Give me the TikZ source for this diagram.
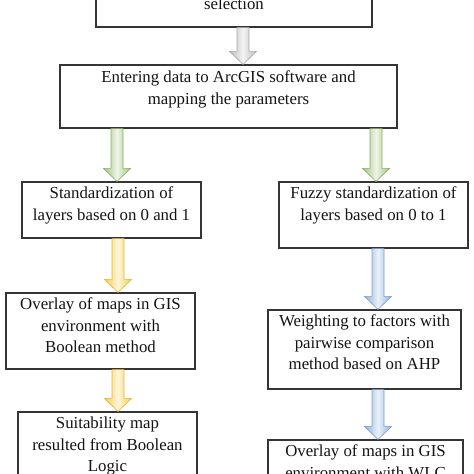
\documentclass[tikz,border=0pt]{standalone}
\usepackage{fontspec}
\setmainfont{Liberation Serif}
\usetikzlibrary{calc}
\definecolor{boxc}{HTML}{353535}
\definecolor{txtc}{HTML}{141414}
\definecolor{grayA}{HTML}{BDBDBD}
\definecolor{grayE}{HTML}{A8A8A8}
\definecolor{greenA}{HTML}{A2C681}
\definecolor{greenE}{HTML}{88AE64}
\definecolor{yellowA}{HTML}{F6CD48}
\definecolor{yellowE}{HTML}{E0B836}
\definecolor{blueA}{HTML}{8FB3DE}
\definecolor{blueE}{HTML}{779FD0}
\tikzset{
  box/.style={draw=boxc, line width=1.2bp, fill=white, inner sep=0pt},
  txt/.style={align=center, inner sep=0pt, text=txtc,
    font=\fontsize{16.8bp}{21.5bp}\selectfont},
}
\newcommand\blockarrow[4]{%
  \draw[line width=0.6bp, draw=#4, left color=#3, right color=#3, middle color=#3!18!white]
    ($(#1)+(-6,0)$) -- ($(#2)+(-6,-13)$) -- ($(#2)+(-13.5,-13)$) -- (#2)
    -- ($(#2)+(13.5,-13)$) -- ($(#2)+(6,-13)$) -- ($(#1)+(6,0)$) -- cycle;}
\begin{document}
\begin{tikzpicture}[x=1bp, y=-1bp]
\useasboundingbox (0,0) rectangle (474,474);
\clip (0,0) rectangle (474,474);
% anchor columns for the arrows
\coordinate (xg) at (243,0);
\coordinate (xgl) at (117,0);
\coordinate (xgr) at (376,0);
\coordinate (xyl) at (118,0);
\coordinate (xbr) at (378,0);
% boxes
\node[box, minimum width=276bp, minimum height=67bp,
  label={[txt, anchor=base, yshift=18bp]south:{selection}}] (B0) at (234,-6.5) {};
\node[box, minimum width=337bp, minimum height=63bp,
  label={[txt, anchor=north, yshift=-6.3bp]north:{Entering data to ArcGIS software and\\mapping the parameters}}] (B1) at (228.5,96.5) {};
\node[box, minimum width=179bp, minimum height=56bp,
  label={[txt, anchor=north, yshift=-5.3bp]north:{Standardization of\\layers based on 0 and 1}}] (L1) at (111.5,210) {};
\node[box, minimum width=189bp, minimum height=66bp,
  label={[txt, anchor=north, yshift=-5.3bp]north:{Fuzzy standardization of\\layers based on 0 to 1}}] (R1) at (373.5,215) {};
\node[box, minimum width=189bp, minimum height=76bp,
  label={[txt, anchor=north, yshift=-5.3bp]north:{Overlay of maps in GIS\\environment with\\Boolean method}}] (L2) at (100.5,331) {};
\node[box, minimum width=193bp, minimum height=79bp,
  label={[txt, anchor=north, yshift=-5.3bp]north:{Weighting to factors with\\pairwise comparison\\method based on AHP}}] (R2) at (364.5,349.5) {};
\node[box, minimum width=179bp, minimum height=88bp,
  label={[txt, anchor=north, yshift=-5.3bp]north:{Suitability map\\resulted from Boolean\\Logic}}] (L3) at (107.5,456) {};
\node[box, minimum width=195bp, minimum height=80bp,
  label={[txt, anchor=north, yshift=-5.3bp]north:{Overlay of maps in GIS\\environment with WLC}}] (R3) at (365.5,480) {};
% block arrows
\blockarrow{xg |- B0.south}{xg |- B1.north}{grayA}{grayE}
\blockarrow{xgl |- B1.south}{xgl |- L1.north}{greenA}{greenE}
\blockarrow{xgr |- B1.south}{xgr |- R1.north}{greenA}{greenE}
\blockarrow{xyl |- L1.south}{xyl |- L2.north}{yellowA}{yellowE}
\blockarrow{xyl |- L2.south}{xyl |- L3.north}{yellowA}{yellowE}
\blockarrow{xbr |- R1.south}{xbr |- R2.north}{blueA}{blueE}
\blockarrow{xbr |- R2.south}{xbr |- R3.north}{blueA}{blueE}
\end{tikzpicture}
\end{document}
